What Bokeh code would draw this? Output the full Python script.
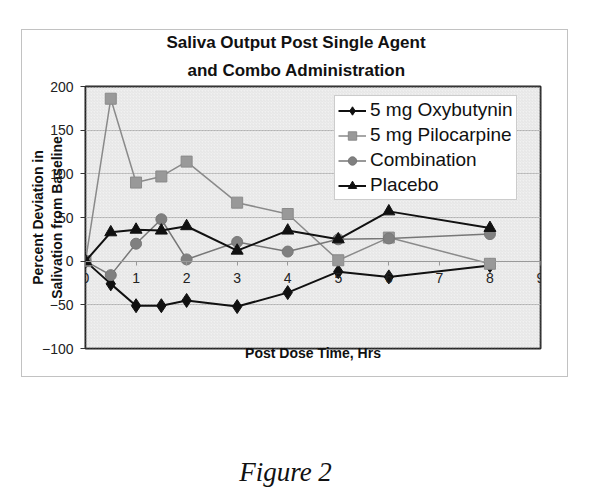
from bokeh.plotting import figure
from bokeh.layouts import column
from bokeh.models import Range1d, FixedTicker, Label, BoxAnnotation, Legend, LinearAxis, Title
from bokeh.embed import file_html
from bokeh.resources import INLINE

# hours after dose
hours = [0, 0.5, 1, 1.5, 2, 3, 4, 5, 6, 8]
oxybutynin = [0, -26, -51, -51, -45, -52, -36, -12, -18, -5]
pilocarpine = [0, 186, 90, 97, 114, 67, 54, 1, 27, -3]
combination = [0, -16, 20, 48, 2, 22, 11, 25, 26, 31]
placebo = [0, 33, 36, 35, 40, 12, 35, 25, 57, 38]

x_ticks = [0, 1, 2, 3, 4, 5, 6, 7, 8, 9]
y_ticks = [-100, -50, 0, 50, 100, 150, 200]

FONT = "Liberation Sans"

p = figure(width=547, height=348, output_backend="svg", toolbar_location=None,
           x_range=Range1d(0, 9), y_range=Range1d(-100, 200),
           min_border_left=63, min_border_right=29, min_border_top=55, min_border_bottom=30)
p.margin = (29, 0, 0, 21)
p.styles = {"border": "1px solid #c2c2c2"}
p.border_fill_color = "white"
p.background_fill_color = "#f1f1f1"
p.outline_line_color = "#222222"
p.outline_line_width = 2

# faint hatch in the plot area
p.add_layout(BoxAnnotation(fill_alpha=0, line_alpha=0, hatch_pattern="right_diagonal_line",
                           hatch_color="#dcdcdc", hatch_scale=3, hatch_weight=0.6,
                           level="underlay"))

# title, two lines (later ones sit further from the frame)
for txt, off, gap in [("and Combo Administration", 102, 14),
                      ("Saliva Output Post Single Agent", 81, 0)]:
    p.add_layout(Title(text=txt, align="left", offset=off, standoff=gap,
                       text_font=FONT, text_font_size="17px", text_font_style="bold",
                       text_color="#111111"), "above")

p.xgrid.visible = False
p.ygrid.grid_line_color = "#aaaaaa"
p.ygrid.ticker = FixedTicker(ticks=y_ticks)

p.xaxis.ticker = FixedTicker(ticks=x_ticks)
p.xaxis.fixed_location = 0
p.xaxis.axis_line_color = "#999999"
p.xaxis.major_tick_line_color = "#999999"
p.xaxis.major_tick_in = 0
p.xaxis.major_tick_out = 4
p.xaxis.minor_tick_line_color = None
p.xaxis.major_label_standoff = 8
p.xaxis.major_label_text_font = FONT
p.xaxis.major_label_text_font_size = "14px"
p.xaxis.major_label_text_color = "#222222"

# x axis title sits on its own axis at the bottom edge
xlab = LinearAxis(ticker=FixedTicker(ticks=[]), axis_line_color=None,
                  major_tick_line_color=None, minor_tick_line_color=None,
                  axis_label="Post Dose Time, Hrs", axis_label_standoff=-4,
                  axis_label_text_font=FONT, axis_label_text_font_size="14px",
                  axis_label_text_font_style="bold", axis_label_text_color="#111111")
p.add_layout(xlab, "below")

p.yaxis.ticker = FixedTicker(ticks=y_ticks)
p.yaxis.axis_line_color = None
p.yaxis.major_tick_line_color = "#333333"
p.yaxis.major_tick_in = 0
p.yaxis.major_tick_out = 5
p.yaxis.minor_tick_line_color = None
p.yaxis.major_label_standoff = 7
p.yaxis.major_label_text_font = FONT
p.yaxis.major_label_text_font_size = "14px"
p.yaxis.major_label_text_color = "#222222"
p.yaxis.axis_label = "Percent Deviation in\nSalivation from Baseline"
p.yaxis.axis_label_standoff = -26
p.yaxis.axis_label_text_font = FONT
p.yaxis.axis_label_text_font_size = "14px"
p.yaxis.axis_label_text_font_style = "bold"
p.yaxis.axis_label_text_color = "#111111"

series = [
    ("5 mg Oxybutynin", oxybutynin, "#111111", "#111111", "diamond", 14, 2),
    ("5 mg Pilocarpine", pilocarpine, "#8a8a8a", "#999999", "square", 11, 1.5),
    ("Combination", combination, "#777777", "#808080", "circle", 11, 1.5),
    ("Placebo", placebo, "#111111", "#111111", "triangle", 12, 2),
]
items = []
for name, vals, lc, fc, marker, size, lw in series:
    ln = p.line(hours, vals, line_color=lc, line_width=lw)
    sc = p.scatter(hours, vals, marker=marker, size=size, fill_color=fc,
                   line_color=lc, line_width=1)
    items.append((name, [ln, sc]))

legend = Legend(items=items, location=(249, 148))
legend.label_text_font = FONT
legend.label_text_font_size = "19px"
legend.label_text_color = "#111111"
legend.glyph_width = 28
legend.glyph_height = 21
legend.label_height = 21
legend.spacing = 3
legend.padding = 3
legend.label_standoff = 4
legend.border_line_color = "#999999"
legend.background_fill_color = "white"
legend.background_fill_alpha = 1
p.add_layout(legend, "center")

# caption under the chart box
cap = figure(width=580, height=110, output_backend="svg", toolbar_location=None,
             x_axis_type=None, y_axis_type=None, min_border=0)
cap.outline_line_color = None
cap.add_layout(Label(x=222, y=16, x_units="screen", y_units="screen", text="Figure 2",
                     text_font="Liberation Serif", text_font_size="27px",
                     text_font_style="italic", text_color="#111111",
                     text_align="center", text_baseline="middle"))

page = column(p, cap)
open("out.html", "w").write(file_html(page, INLINE))
